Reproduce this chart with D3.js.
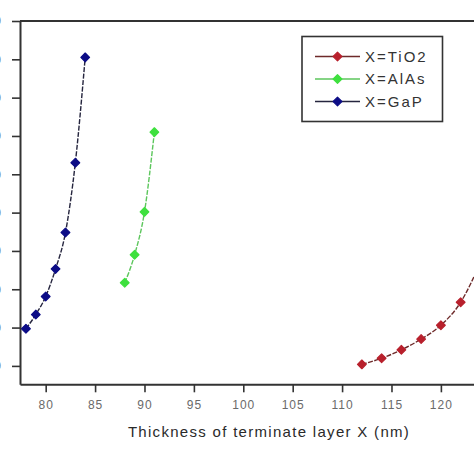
<!DOCTYPE html>
<html>
<head>
<meta charset="utf-8">
<script src="https://cdn.jsdelivr.net/npm/d3@7"></script>
<style>
  body { margin: 0; background: #fff; }
  svg { display: block; font-family: "Liberation Sans", Arial, sans-serif; }
</style>
</head>
<body>
<svg id="chart" width="474" height="474"></svg>
<script>
// values (y labels are cropped in the original)
const tio2X = [112, 114, 116, 118, 120, 122, 124];
const tio2Y = [1550.4, 1552.0, 1554.2, 1557.0, 1560.6, 1566.6, 1577.0];
const alasX = [88, 89, 90, 91];
const alasY = [1571.7, 1579.0, 1590.2, 1611.0];
const gapX = [78, 79, 80, 81, 82, 83, 84];
const gapY = [1559.7, 1563.4, 1568.1, 1575.3, 1584.8, 1603.0, 1630.5];
const xTicks = [80, 85, 90, 95, 100, 105, 110, 115, 120];
const yTicks = [1550, 1560, 1570, 1580, 1590, 1600, 1610, 1620, 1630, 1640];
const seriesNames = ["X=TiO2", "X=AlAs", "X=GaP"];

const series = [
  {name: seriesNames[0], xs: tio2X, ys: tio2Y, fill: "#b8202c", line: "#6e2a2a"},
  {name: seriesNames[1], xs: alasX, ys: alasY, fill: "#3ee03e", line: "#5cc65c"},
  {name: seriesNames[2], xs: gapX, ys: gapY, fill: "#0c0c86", line: "#25253e"}
];

const svg = d3.select("#chart");
const plotLeft = 20, plotTop = 21, plotBottom = 384.3;

const x = d3.scaleLinear().domain([77.4, 127]).range([plotLeft, plotLeft + (127 - 77.4) * 9.88]);
const y = d3.scaleLinear().domain([1545.2, 1640]).range([plotBottom, plotTop]);

// top frame line
svg.append("line")
  .attr("x1", plotLeft).attr("x2", 520).attr("y1", plotTop).attr("y2", plotTop)
  .attr("stroke", "#333").attr("stroke-width", 2);

const xAxis = svg.append("g")
  .attr("transform", `translate(0,${plotBottom})`)
  .call(d3.axisBottom(x).tickValues(xTicks).tickSize(8).tickSizeOuter(0).tickPadding(8));

const yAxis = svg.append("g")
  .attr("transform", `translate(${plotLeft},0)`)
  .call(d3.axisLeft(y).tickValues(yTicks).tickSize(8).tickSizeOuter(0).tickPadding(10));

[xAxis, yAxis].forEach(a => {
  a.select(".domain").attr("stroke", "#333").attr("stroke-width", 2);
  a.selectAll(".tick line").attr("stroke", "#333").attr("stroke-width", 1.6);
  a.selectAll(".tick text")
    .attr("fill", "#6a6a6a")
    .style("font-size", "12px")
    .style("letter-spacing", "1px");
});

svg.append("text")
  .attr("x", 269).attr("y", 437)
  .attr("text-anchor", "middle")
  .attr("fill", "#2a2a2a")
  .style("font-size", "15px")
  .style("letter-spacing", "1.3px")
  .text("Thickness of terminate layer X (nm)");

const marker = d3.symbol().type(d3.symbolSquare).size(38);

const line = d3.line()
  .x(d => x(d[0]))
  .y(d => y(d[1]))
  .curve(d3.curveMonotoneX);

series.forEach(s => {
  const pts = s.xs.map((v, i) => [v, s.ys[i]]);
  svg.append("path")
    .datum(pts)
    .attr("d", line)
    .attr("fill", "none")
    .attr("stroke", s.line)
    .attr("stroke-width", 1.4)
    .attr("stroke-dasharray", "5,1.5");
  svg.append("g").selectAll("path")
    .data(pts)
    .join("path")
    .attr("d", marker)
    .attr("transform", d => `translate(${x(d[0])},${y(d[1])}) rotate(45)`)
    .attr("fill", s.fill)
    .attr("stroke", s.fill)
    .attr("stroke-width", 1.2)
    .attr("stroke-linejoin", "round");
});

// legend
const lg = svg.append("g");
lg.append("rect")
  .attr("x", 302).attr("y", 36.5).attr("width", 140.5).attr("height", 85)
  .attr("fill", "#fff").attr("stroke", "#333").attr("stroke-width", 1.6);

series.forEach((s, i) => {
  const ly = 56.5 + i * 22.5;
  lg.append("line")
    .attr("x1", 315).attr("x2", 360).attr("y1", ly).attr("y2", ly)
    .attr("stroke", s.line).attr("stroke-width", 1.4);
  lg.append("path")
    .attr("d", marker)
    .attr("transform", `translate(337.5,${ly}) rotate(45)`)
    .attr("fill", s.fill).attr("stroke", s.fill)
    .attr("stroke-width", 1.2).attr("stroke-linejoin", "round");
  lg.append("text")
    .attr("x", 365).attr("y", ly).attr("dy", "0.36em")
    .attr("fill", "#333")
    .style("font-size", "15px")
    .style("letter-spacing", "2px")
    .text(s.name);
});
</script>
</body>
</html>
